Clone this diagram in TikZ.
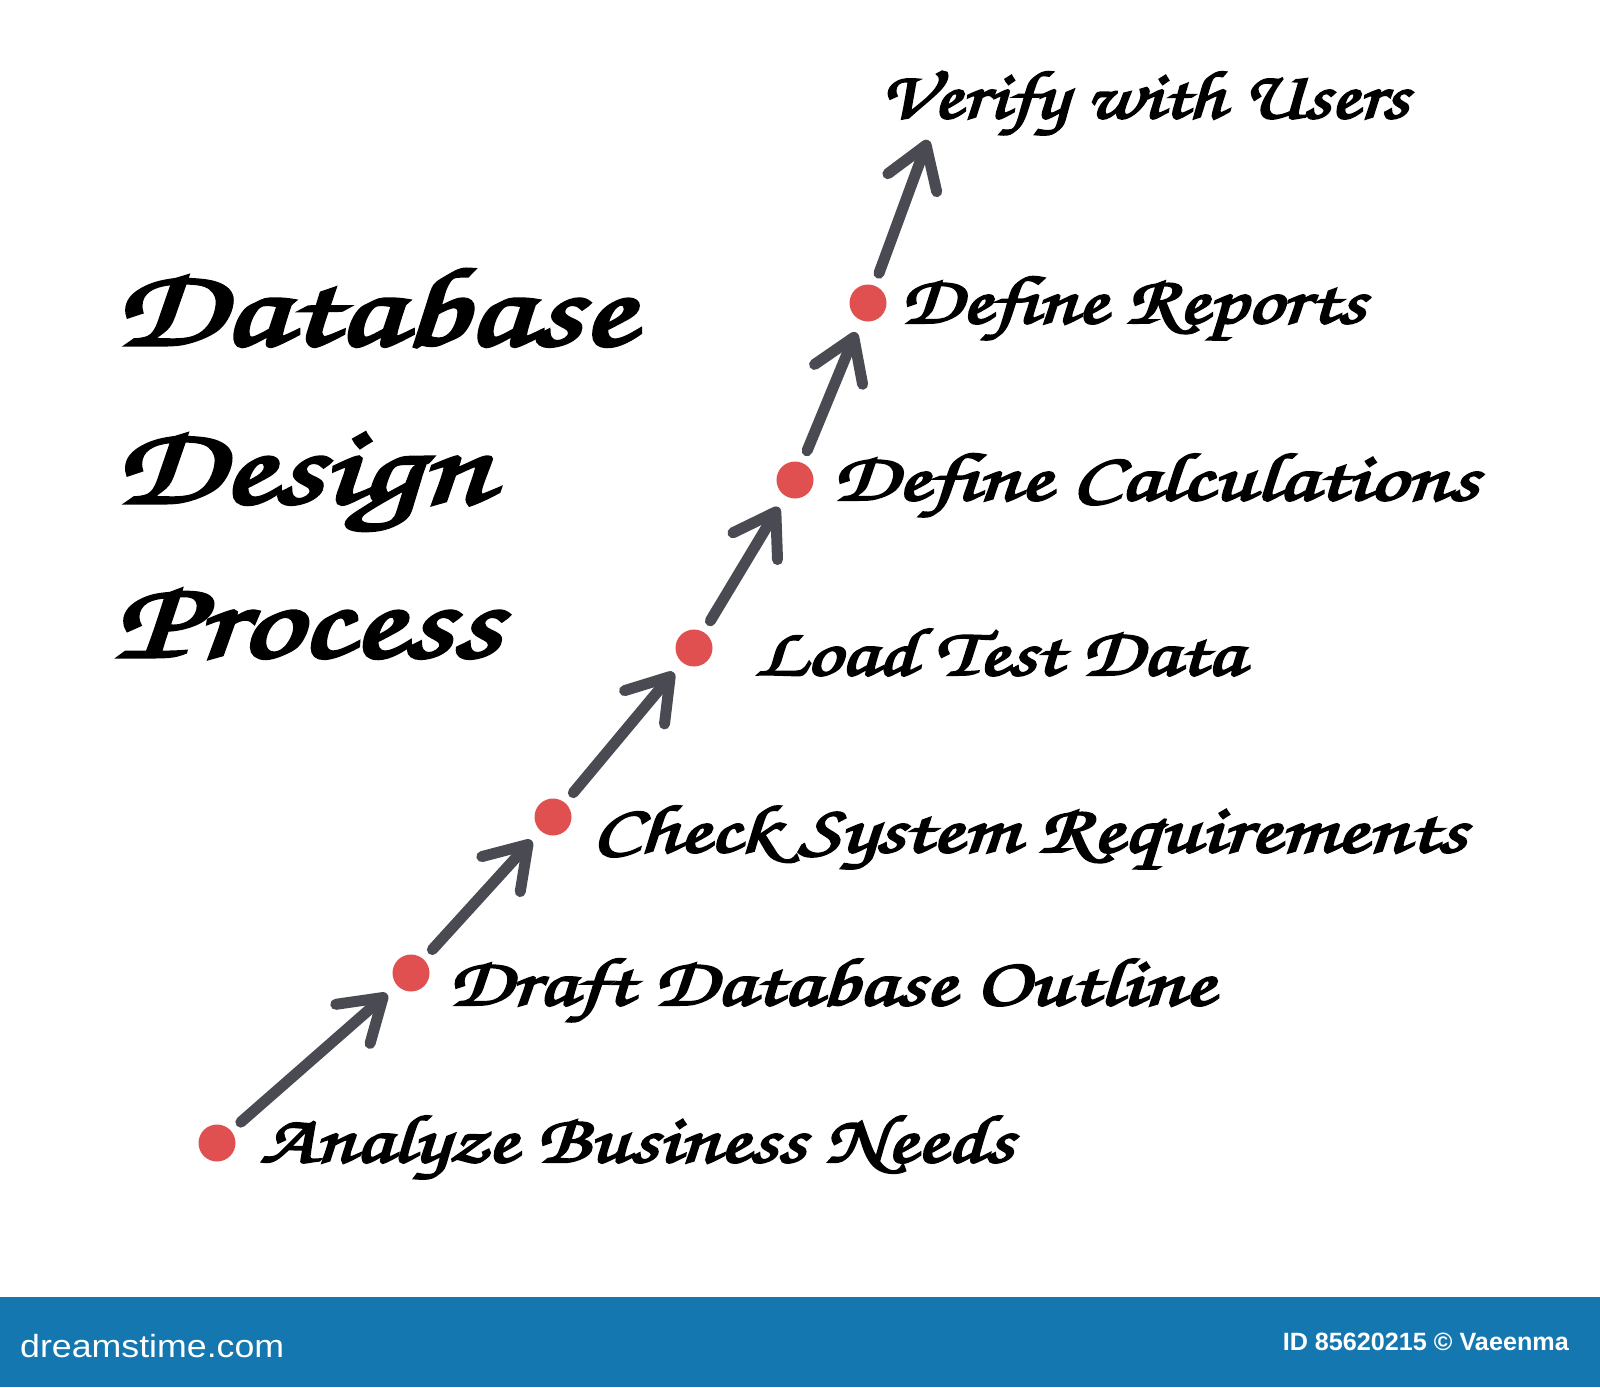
\documentclass[tikz,border=0pt]{standalone}
\usepackage{fontspec}
\usepackage{graphicx}
\usetikzlibrary{arrows.meta}
\newfontfamily\hand{texgyrechorus-mediumitalic.otf}[FakeBold=3]
\newfontfamily\barsans{Liberation Sans}
\definecolor{dotred}{HTML}{E05050}
\definecolor{arrgray}{HTML}{4A4A52}
\definecolor{barblue}{HTML}{1477B0}
\newcommand\fitto[2]{\resizebox{#1}{\height}{#2}}
\tikzset{
  dot/.style={circle, fill=dotred, minimum size=37pt, inner sep=0pt},
  lbl/.style={anchor=base west, inner sep=0pt, font=\hand\fontsize{68}{80}\selectfont},
  ttl/.style={anchor=base west, inner sep=0pt, font=\hand\fontsize{112}{130}\selectfont},
  arr/.style={draw=arrgray, line width=11pt, line cap=round,
    -{Straight Barb[length=40pt,width=52pt,round]},
    shorten <=13pt, shorten >=13pt},
  foot/.style={inner sep=0pt, text=white}
}
\begin{document}
\begin{tikzpicture}[x=1pt,y=-1pt]
\fill[white] (0,0) rectangle (1600,1387);
\useasboundingbox (0,0) rectangle (1600,1387);
\fill[barblue] (0,1297) rectangle (1600,1387);

% title
\node[ttl] (t1) at (114,345) {\fitto{519pt}{Database}};
\node[ttl] (t2) at (114,503) {\fitto{376pt}{Design}};
\node[ttl] (t3) at (114,657) {\fitto{386pt}{Process}};

% dots
\node[dot] (d1) at (217,1143) {};
\node[dot] (d2) at (411,973) {};
\node[dot] (d3) at (553,817) {};
\node[dot] (d4) at (694,648) {};
\node[dot] (d5) at (795,480) {};
\node[dot] (d6) at (868,303) {};
\coordinate (vt) at (928,140);

% labels
\node[lbl] (l1) at (260,1162) {\fitto{753pt}{Analyze Business Needs}};
\node[lbl] (l2) at (448,1005) {\fitto{766pt}{Draft Database Outline}};
\node[lbl] (l3) at (592,852) {\fitto{874pt}{Check System Requirements}};
\node[lbl] (l4) at (755,675) {\fitto{488pt}{Load Test Data}};
\node[lbl] (l5) at (832,500) {\fitto{646pt}{Define Calculations}};
\node[lbl] (l6) at (900,323) {\fitto{465pt}{Define Reports}};
\node[lbl] (l7) at (880,118) {\fitto{528pt}{Verify with Users}};

% arrows
\draw[arr] (d1) -- (d2);
\draw[arr] (d2) -- (d3);
\draw[arr] (d3) -- (d4);
\draw[arr] (d4) -- (d5);
\draw[arr] (d5) -- (d6);
\draw[arr, shorten >=0pt] (d6) -- (vt);

% footer
\node[foot, anchor=base west, font=\barsans\fontsize{32}{36}\selectfont] (ds) at (20,1357) {\fitto{264pt}{dreamstime.com}};
\node[foot, anchor=base east, font=\barsans\bfseries\fontsize{25}{30}\selectfont] (id) at (1569,1350) {\fitto{286pt}{ID 85620215 © Vaeenma}};
\end{tikzpicture}
\end{document}
